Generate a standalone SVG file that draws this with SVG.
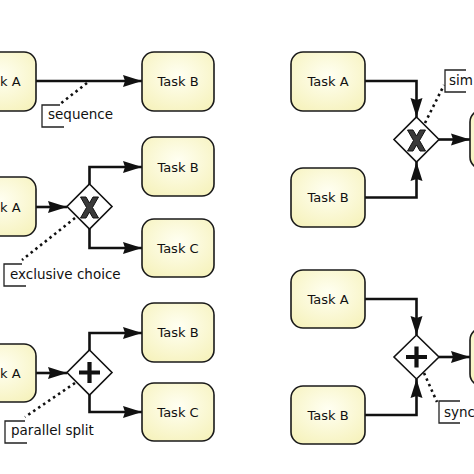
<svg xmlns="http://www.w3.org/2000/svg" width="474" height="474" viewBox="0 0 474 474">
<defs>
<radialGradient id="g" cx="0.5" cy="0.4" r="0.7">
<stop offset="0" stop-color="#fffff2"/>
<stop offset="1" stop-color="#f6f2bc"/>
</radialGradient>
<marker id="ah" markerUnits="userSpaceOnUse" markerWidth="20" markerHeight="14" refX="19" refY="6.5" orient="auto">
<path d="M0,0.5 L19,6.5 L0,12.5 L2,6.5 z" fill="#111"/>
</marker>
</defs>
<style>
.task{fill:url(#g);stroke:#1a1a1a;stroke-width:1.6}
.tt{font-family:"DejaVu Sans",sans-serif;font-size:13px;fill:#111;text-anchor:middle}
.lt{font-family:"DejaVu Sans",sans-serif;font-size:13.5px;fill:#111}
.flow{fill:none;stroke:#111;stroke-width:2.6;marker-end:url(#ah)}
.dot{fill:none;stroke:#111;stroke-width:2.6;stroke-dasharray:2.5 3.5}
.br{fill:none;stroke:#222;stroke-width:1.3}
.gw{fill:#fff;stroke:#111;stroke-width:1.6}
.xm{fill:#3a3a3a;stroke:#111;stroke-width:1}
.pm{stroke:#111;stroke-width:4.2;fill:none}
</style>

<g id="connectors">
<path class="flow" d="M36,81 H142"/>
<path class="flow" d="M36,207 H67"/>
<path class="flow" d="M89.5,184 V167 H142"/>
<path class="flow" d="M89.5,229 V248 H142"/>
<path class="flow" d="M36,373 H67"/>
<path class="flow" d="M89.5,350 V333 H142"/>
<path class="flow" d="M89.5,395 V412 H142"/>
<path class="flow" d="M365,81 H416.5 V117"/>
<path class="flow" d="M365,197.5 H416.5 V162"/>
<path class="flow" d="M439,139.5 H470"/>
<path class="flow" d="M365,299 H416.5 V335"/>
<path class="flow" d="M365,415 H416.5 V379"/>
<path class="flow" d="M439,357 H470"/>
</g>

<g id="annotations">
<path class="dot" d="M87,83 L60,104"/>
<path class="br" d="M60,105 H42 V127 H64"/>
<text class="lt" x="48" y="119">sequence</text>
<path class="dot" d="M75,218 L22,260"/>
<path class="br" d="M22,264 H4 V286 H26"/>
<text class="lt" x="10" y="279">exclusive choice</text>
<path class="dot" d="M75,383 L25,417"/>
<path class="br" d="M25,421 H5 V443 H27"/>
<text class="lt" x="11" y="435">parallel split</text>
<path class="dot" d="M425,123 L444,85"/>
<path class="br" d="M466,70 H445 V92 H466"/>
<text class="lt" x="449" y="85">sim</text>
<path class="dot" d="M424,373 L437,402"/>
<path class="br" d="M460,401 H439 V423 H460"/>
<text class="lt" x="444" y="417">sync</text>
</g>

<g id="seqA"><rect class="task" x="-36" y="52" width="72" height="59" rx="12"/><text class="tt" x="0" y="86">Task A</text></g>
<g id="seqB"><rect class="task" x="142" y="52" width="72" height="59" rx="12"/><text class="tt" x="178" y="86">Task B</text></g>

<g id="xorA"><rect class="task" x="-36" y="177" width="72" height="59" rx="12"/><text class="tt" x="0" y="212">Task A</text></g>
<g id="xorGw"><path class="gw" d="M89.5,184 L112,206.5 L89.5,229 L67,206.5 z"/>
<path class="xm" d="M80.5,197 H86 L89.5,203 L93,197 H98.5 L92.5,207.5 L98.5,218 H93 L89.5,212 L86,218 H80.5 L86.5,207.5 z"/></g>
<g id="xorB"><rect class="task" x="142" y="137" width="72" height="59" rx="12"/><text class="tt" x="178" y="172">Task B</text></g>
<g id="xorC"><rect class="task" x="142" y="219" width="72" height="58" rx="12"/><text class="tt" x="178" y="253">Task C</text></g>

<g id="andA"><rect class="task" x="-36" y="344" width="72" height="58" rx="12"/><text class="tt" x="0" y="378">Task A</text></g>
<g id="andGw"><path class="gw" d="M89.5,350 L112,372.5 L89.5,395 L67,372.5 z"/>
<path class="pm" d="M79,372.5 H100 M89.5,362 V383"/></g>
<g id="andB"><rect class="task" x="142" y="303" width="72" height="59" rx="12"/><text class="tt" x="178" y="337">Task B</text></g>
<g id="andC"><rect class="task" x="142" y="383" width="72" height="58" rx="12"/><text class="tt" x="178" y="417">Task C</text></g>

<g id="mergeA"><rect class="task" x="291" y="52" width="74" height="59" rx="12"/><text class="tt" x="328" y="86">Task A</text></g>
<g id="mergeB"><rect class="task" x="291" y="168" width="74" height="59" rx="12"/><text class="tt" x="328" y="202">Task B</text></g>
<g id="mergeGw"><path class="gw" d="M416.5,117 L439,139.5 L416.5,162 L394,139.5 z"/>
<path class="xm" d="M407.5,130 H413 L416.5,136 L420,130 H425.5 L419.5,140.5 L425.5,151 H420 L416.5,145 L413,151 H407.5 L413.5,140.5 z"/></g>
<g id="mergeOut"><rect class="task" x="470" y="110" width="72" height="59" rx="12"/></g>

<g id="syncA"><rect class="task" x="291" y="270" width="74" height="58" rx="12"/><text class="tt" x="328" y="304">Task A</text></g>
<g id="syncB"><rect class="task" x="291" y="386" width="74" height="58" rx="12"/><text class="tt" x="328" y="420">Task B</text></g>
<g id="syncGw"><path class="gw" d="M416.5,335 L439,357 L416.5,379 L394,357 z"/>
<path class="pm" d="M406,357 H427 M416.5,346.5 V367.5"/></g>
<g id="syncOut"><rect class="task" x="470" y="328" width="72" height="58" rx="12"/></g>
</svg>
